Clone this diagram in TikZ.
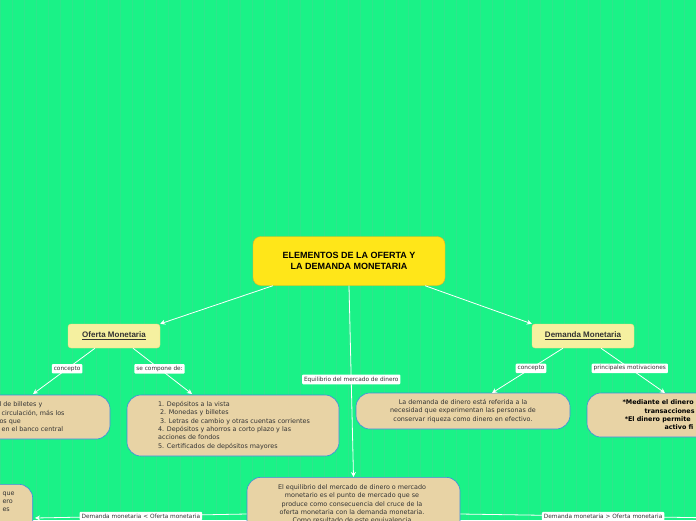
\documentclass[tikz,border=0pt]{standalone}
\usepackage{fontspec}
\setmainfont{DejaVu Sans}
\newfontfamily\arialf{Liberation Sans}
\usetikzlibrary{arrows.meta}
\definecolor{bg}{HTML}{1AF287}
\definecolor{gridc}{HTML}{2EE58C}
\definecolor{tan}{HTML}{E8D3A5}
\definecolor{tanb}{HTML}{3D8BE0}
\definecolor{ttl}{HTML}{FFE619}
\definecolor{ttlb}{HTML}{F0B020}
\definecolor{sub}{HTML}{F5F0A0}
\definecolor{txt}{HTML}{333333}
\tikzset{
  x=1pt,y=-1pt,
  every node/.style={font=\fontsize{6.4}{8.3}\selectfont, text=txt},
  conn/.style={draw=white, line width=0.8pt, -{Stealth[length=5pt,width=5pt]}},
  tanbox/.style={draw=tanb, fill=tan, rounded corners=14pt, line width=0.6pt, align=center},
  subbox/.style={draw=sub!80!orange, fill=sub, rounded corners=3pt, font=\arialf\fontsize{8}{9}\selectfont\bfseries, text=txt, minimum height=24pt, inner xsep=6pt},
  lbl/.style={fill=white, rounded corners=1pt, inner sep=2pt, font=\fontsize{5.8}{7}\selectfont},
}
\begin{document}
\begin{tikzpicture}
\useasboundingbox (0,0) rectangle (696,520);
\fill[bg] (0,0) rectangle (696,520);
\draw[gridc, line width=0.3pt, step=12] (0,0) grid (696,520);
% title
\node[draw=ttlb, fill=ttl, rounded corners=8pt, minimum width=192pt, minimum height=49pt, align=center, font=\arialf\fontsize{9}{11.5}\selectfont\bfseries, text=black] (title) at (349,261) {ELEMENTOS DE LA OFERTA Y\\LA DEMANDA MONETARIA};
\node[subbox, minimum width=92pt] (of) at (114,336) {\underline{Oferta Monetaria}};
\node[subbox, minimum width=102pt] (dm) at (583,336) {\underline{Demanda Monetaria}};
% boxes
\node[tanbox, minimum width=220pt, minimum height=44pt] (c1) at (0,417) {};
\node[anchor=west, align=left] at (-4,417) {l de billetes y\\\ circulación, más los\\os que\\\ en el banco central};
\node[tanbox, minimum width=212pt, minimum height=61pt, align=left] (c2) at (233,425.5) {\ 1. Depósitos a la vista\\\ \ 2. Monedas y billetes\\\ \ 3. Letras de cambio y otras cuentas corrientes\\\ 4. Depósitos y ahorros a corto plazo y las\\\ acciones de fondos\\\ 5. Certificados de depósitos mayores};
\node[tanbox, minimum width=214pt, minimum height=36pt] (c3) at (463,411) {La demanda de dinero está referida a la\\necesidad que experimentan las personas de\\conservar riqueza como dinero en efectivo.};
\node[tanbox, minimum width=200pt, minimum height=44pt] (c4) at (687,415) {};
\node[anchor=west, align=left, font=\fontsize{6.4}{8.3}\selectfont\bfseries, text=black] at (619,415) {*Mediante el dinero\\\hspace*{22pt}transacciones\\\ *El dinero permite\\\hspace*{42pt}activo fi};
\node[tanbox, minimum width=213pt, minimum height=70pt, anchor=north] (eq) at (353.5,477) {};
\node[anchor=north, align=center] at (352,481) {El equilibrio del mercado de dinero o mercado\\monetario es el punto de mercado que se\\produce como consecuencia del cruce de la\\oferta monetaria con la demanda monetaria.\\Como resultado de este equivalencia};
\node[tanbox, minimum width=120pt, minimum height=60pt, anchor=north east] (c5) at (33,484) {};
\node[anchor=north west, align=left] at (-1,488) {que\\ero\\es};
% connectors
\draw[conn] (title.198) -- (of.north east);
\draw[conn] (title.342) -- (dm.north west);
\draw[conn] (title.south) -- node[lbl, pos=0.49]{Equilibrio del mercado de dinero} (eq.north);
\draw[conn] (of.south) ++(-19,0) -- node[lbl, pos=0.45]{concepto} (33,394);
\draw[conn] (of.south) ++(19,0) -- node[lbl, pos=0.45]{se compone de:} (192,394);
\draw[conn] (dm.south) ++(-20,0) -- node[lbl, pos=0.45]{concepto} (492,393);
\draw[conn] (dm.south) ++(18,0) -- node[lbl, pos=0.45]{principales motivaciones} (665,393);
\draw[conn] (eq.west |- 0,514) -- node[lbl, pos=0.5]{Demanda monetaria < Oferta monetaria} (35,518);
\draw[conn] (eq.east |- 0,514) -- node[lbl, pos=0.55]{Demanda monetaria > Oferta monetaria} (720,518);
\end{tikzpicture}
\end{document}
